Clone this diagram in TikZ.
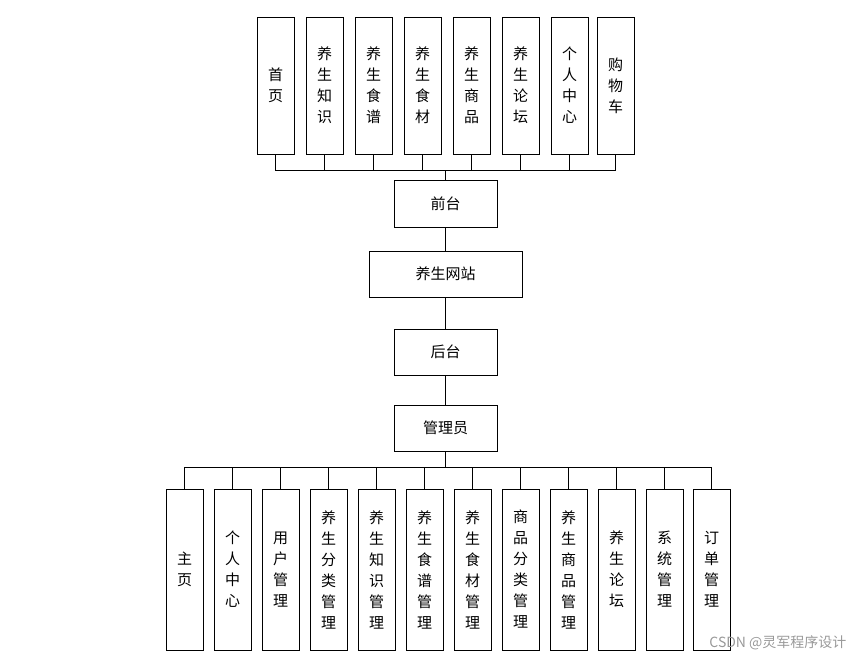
\documentclass[tikz,border=0pt]{standalone}
\usepackage{fontspec}
\newfontfamily\cjk{Noto Sans CJK SC}
\begin{document}
\begin{tikzpicture}[x=1pt,y=-1pt,
  box/.style={draw,thick,fill=white,inner sep=0pt,font=\cjk\fontsize{15}{21}\selectfont,align=center},
  ln/.style={thick}]
\useasboundingbox (0,0) rectangle (864,663);
% top boxes
\foreach \x/\t [count=\i] in {275.5/首\\页,324.5/养\\生\\知\\识,373.5/养\\生\\食\\谱,422.5/养\\生\\食\\材,471.5/养\\生\\商\\品,520.5/养\\生\\论\\坛,569.5/个\\人\\中\\心,615.5/购\\物\\车}{
  \node[box,minimum width=37,minimum height=137] (t\i) at (\x,85.5) {\t};
}
\node[box,minimum width=103,minimum height=47] (front) at (445.5,203.5) {前台};
\node[box,minimum width=153,minimum height=46] (site) at (445.5,274) {养生网站};
\node[box,minimum width=103,minimum height=46] (back) at (445.5,352) {后台};
\node[box,minimum width=103,minimum height=46] (admin) at (445.5,428) {管理员};
\coordinate (tb) at (445.5,170);
\foreach \i in {1,...,8}{\draw[ln] (t\i.south) |- (tb);}
\draw[ln] (front.north) -- (tb);
\draw[ln] (front) -- (site);
\draw[ln] (site) -- (back);
\draw[ln] (back) -- (admin);
% bottom boxes
\foreach \x/\t [count=\i] in {184.5/主\\页,232.5/个\\人\\中\\心,280.5/用\\户\\管\\理,328.5/养\\生\\分\\类\\管\\理,376.5/养\\生\\知\\识\\管\\理,424.5/养\\生\\食\\谱\\管\\理,472.5/养\\生\\食\\材\\管\\理,520.5/商\\品\\分\\类\\管\\理,568.5/养\\生\\商\\品\\管\\理,616.5/养\\生\\论\\坛,664.5/系\\统\\管\\理,711.5/订\\单\\管\\理}{
  \node[box,minimum width=37,minimum height=161] (b\i) at (\x,569.5) {\t};
}
\coordinate (bb) at (445.5,467);
\draw[ln] (admin.south) -- (bb);
\foreach \i in {1,...,12}{\draw[ln] (b\i.north) |- (bb);}
\node[font=\cjk\fontsize{14}{16}\selectfont,text=gray!80,anchor=east] (wm) at (850,643) {CSDN @灵军程序设计};
\end{tikzpicture}
\end{document}
